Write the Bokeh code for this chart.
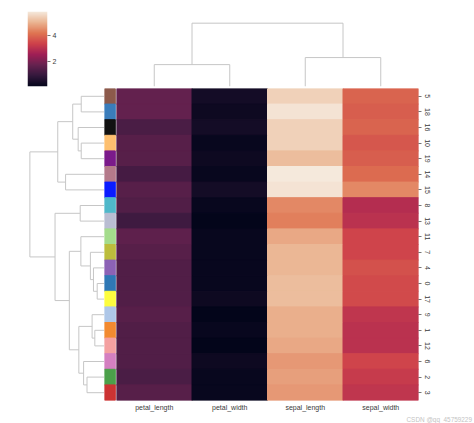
import numpy as np
from bokeh.embed import file_html
from bokeh.resources import INLINE
from bokeh.layouts import column, row
from bokeh.models import (ColumnDataSource, FixedTicker, Label, LinearColorMapper,
                          LinearAxis, Range1d)
from bokeh.plotting import figure
from bokeh.transform import transform

# ---- data -------------------------------------------------------------
columns = ["petal_length", "petal_width", "sepal_length", "sepal_width"]
row_labels = ["5", "18", "16", "10", "19", "14", "15", "8", "13", "11",
              "7", "4", "0", "17", "9", "1", "12", "6", "2", "3"]
petal_length = [1.7, 1.7, 1.3, 1.5, 1.5, 1.2, 1.5, 1.4, 1.1, 1.6,
                1.5, 1.4, 1.4, 1.4, 1.5, 1.4, 1.4, 1.4, 1.3, 1.5]
petal_width = [0.4, 0.3, 0.4, 0.2, 0.3, 0.2, 0.4, 0.2, 0.1, 0.2,
               0.2, 0.2, 0.2, 0.3, 0.1, 0.2, 0.1, 0.3, 0.2, 0.2]
sepal_length = [5.4, 5.7, 5.4, 5.4, 5.1, 5.8, 5.7, 4.4, 4.3, 4.8,
                5.0, 5.0, 5.1, 5.1, 4.9, 4.9, 4.8, 4.6, 4.7, 4.6]
sepal_width = [3.9, 3.8, 3.9, 3.7, 3.8, 4.0, 4.4, 2.9, 3.0, 3.4,
               3.4, 3.6, 3.5, 3.5, 3.1, 3.0, 3.0, 3.4, 3.2, 3.1]
row_colors = ["#8c5a4b", "#3a7dbb", "#111111", "#fdbf6f", "#7b1a8a",
              "#b47a8a", "#0a1cff", "#4fb8ca", "#b9bdd2", "#a4dc8c",
              "#bcbd3c", "#8c62b5", "#2f78b5", "#fdfd3e", "#aec7e8",
              "#f28a30", "#f4a0a0", "#d47fc0", "#4ba04a", "#cc3333"]
# dendrogram merges: (name, left child, right child, distance);
# children are row/column positions or names of earlier merges
row_links = [("a", 0, 1, 0.335), ("b", 3, 4, 0.335), ("c", 2, "b", 0.38),
             ("d", "a", "c", 0.46), ("e", 5, 6, 0.565), ("f", "d", "e", 0.68),
             ("g", 7, 8, 0.35), ("h", 12, 13, 0.10), ("i", 11, "h", 0.155),
             ("j", 10, "i", 0.20), ("k", 9, "j", 0.34), ("l", 15, 16, 0.135),
             ("m", 14, "l", 0.175), ("n", 18, 19, 0.25), ("o", 17, "n", 0.30),
             ("p", "m", "o", 0.37), ("q", "k", "p", 0.51), ("r", "g", "q", 0.72),
             ("s", "f", "r", 1.09)]
col_links = [("a", 0, 1, 5.6), ("b", 2, 3, 7.4), ("c", "a", "b", 16.2)]
value_min, value_max = 0.1, 5.8
colorbar_ticks = [2, 4]
watermark = "CSDN @qq_45759229"

# colour map anchors, as they appear in the picture
map_anchors = ["#03051a", "#33183c", "#66224f", "#a01e55", "#ce414a",
               "#df7552", "#ebb592", "#f5e9dc"]


# ---- helpers ----------------------------------------------------------
def palette_from(anchors, n=256):
    rgb = np.array([[int(c[i:i + 2], 16) for i in (1, 3, 5)] for c in anchors], float)
    pos = np.linspace(0, 1, len(anchors))
    t = np.linspace(0, 1, n)
    out = np.column_stack([np.interp(t, pos, rgb[:, k]) for k in range(3)])
    return ["#%02x%02x%02x" % tuple(int(round(v)) for v in c) for c in out]


def link_paths(links):
    """Return U shaped paths as (positions, distances)."""
    pos, dist = {}, {}
    ps, ds = [], []
    for name, a, b, d in links:
        pa = pos[a] if isinstance(a, str) else a + 0.5
        pb = pos[b] if isinstance(b, str) else b + 0.5
        da, db = dist.get(a, 0), dist.get(b, 0)
        ps.append([pa, pa, pb, pb])
        ds.append([da, d, d, db])
        pos[name], dist[name] = (pa + pb) / 2, d
    return ps, ds


def bare(fig):
    fig.xaxis.visible = False
    fig.yaxis.visible = False
    fig.grid.visible = False
    fig.outline_line_color = None
    fig.min_border = 0


FONT = "Liberation Sans"
INK = "#3a3a3a"
DENDRO = "#c6c6c6"
N = len(row_labels)
palette = palette_from(map_anchors)
mapper = LinearColorMapper(palette=palette, low=value_min, high=value_max)

# ---- colour bar --------------------------------------------------------
cb = figure(width=116, height=88, output_backend="svg", toolbar_location=None,
            x_range=Range1d(0, 1), y_range=Range1d(value_min, value_max), tools="")
bare(cb)
cb.min_border_left, cb.min_border_right = 27, 69
cb.min_border_top, cb.min_border_bottom = 11, 2
cb.image(image=[np.linspace(value_min, value_max, 256)[:, None]], x=0, y=value_min,
         dw=1, dh=value_max - value_min, color_mapper=mapper)
cb_axis = LinearAxis(ticker=FixedTicker(ticks=colorbar_ticks))
cb_axis.axis_line_color = None
cb_axis.major_tick_line_color = INK
cb_axis.major_tick_line_width = 0.7
cb_axis.major_tick_in, cb_axis.major_tick_out = 0, 3
cb_axis.minor_tick_line_color = None
cb_axis.major_label_text_font = FONT
cb_axis.major_label_text_font_size = "7px"
cb_axis.major_label_text_color = INK
cb_axis.major_label_standoff = 2
cb.add_layout(cb_axis, "right")

# ---- top dendrogram ----------------------------------------------------
top = figure(width=358, height=88, output_backend="svg", toolbar_location=None,
             x_range=Range1d(0, len(columns)), y_range=Range1d(0, 16.2 * 88 / 74.3), tools="")
bare(top)
top.min_border_right = 56
ps, ds = link_paths(col_links)
top.multi_line(xs=ps, ys=ds, line_color=DENDRO, line_width=1)

# ---- left dendrogram ---------------------------------------------------
y_range = Range1d(N, 0)
left = figure(width=104, height=325, output_backend="svg", toolbar_location=None,
              x_range=Range1d(103.5 / 68, -0.5 / 68), y_range=y_range, tools="")
bare(left)
left.min_border_bottom = 11
ps, ds = link_paths(row_links)
left.multi_line(xs=ds, ys=ps, line_color=DENDRO, line_width=1)

# ---- row colours --------------------------------------------------------
side = figure(width=12, height=325, output_backend="svg", toolbar_location=None,
              x_range=Range1d(0, 12), y_range=y_range, tools="")
bare(side)
side.min_border_bottom = 11
side.quad(left=0, right=10.8, top=[i for i in range(N)], bottom=[i + 1 for i in range(N)],
          fill_color=row_colors, line_color=row_colors, line_width=1)

# ---- heat map -----------------------------------------------------------
hm = figure(width=358, height=325, output_backend="svg", toolbar_location=None,
            x_range=Range1d(0, len(columns)), y_range=y_range, tools="")
hm.grid.visible = False
hm.outline_line_color = None
hm.min_border_left, hm.min_border_top = 0, 0
hm.min_border_right, hm.min_border_bottom = 56, 11
series = [petal_length, petal_width, sepal_length, sepal_width]
src = ColumnDataSource(dict(
    l=[c for c in range(4) for _ in range(N)],
    r=[c + 1 for c in range(4) for _ in range(N)],
    t=[i for _ in range(4) for i in range(N)],
    b=[i + 1 for _ in range(4) for i in range(N)],
    v=[v for s in series for v in s]))
hm.quad(left="l", right="r", top="t", bottom="b", source=src,
        fill_color=transform("v", mapper), line_color=transform("v", mapper), line_width=1)
hm.xaxis.visible = False
hm.yaxis.visible = False
bottom_axis = LinearAxis(ticker=FixedTicker(ticks=[0.5, 1.5, 2.5, 3.5]),
                         major_label_overrides={0.5 + i: c for i, c in enumerate(columns)})
bottom_axis.axis_line_color = None
bottom_axis.major_tick_line_color = None
bottom_axis.major_tick_in, bottom_axis.major_tick_out = 0, 0
bottom_axis.minor_tick_line_color = None
bottom_axis.major_label_text_font = FONT
bottom_axis.major_label_text_font_size = "7px"
bottom_axis.major_label_text_color = INK
bottom_axis.major_label_standoff = 3
hm.add_layout(bottom_axis, "below")
right_axis = LinearAxis(ticker=FixedTicker(ticks=[i + 0.5 for i in range(N)]),
                        major_label_overrides={i + 0.5: l for i, l in enumerate(row_labels)})
right_axis.axis_line_color = None
right_axis.major_tick_line_color = INK
right_axis.major_tick_line_width = 0.7
right_axis.major_tick_in, right_axis.major_tick_out = 0, 3
right_axis.minor_tick_line_color = None
right_axis.major_label_text_font = FONT
right_axis.major_label_text_font_size = "7px"
right_axis.major_label_text_color = INK
right_axis.major_label_orientation = "vertical"
right_axis.major_label_standoff = 3
hm.add_layout(right_axis, "right")

# ---- watermark strip ----------------------------------------------------
strip = figure(width=474, height=10, output_backend="svg", toolbar_location=None,
               x_range=Range1d(0, 1), y_range=Range1d(0, 1), tools="")
bare(strip)
strip.add_layout(Label(x=406, y=3, x_units="screen", y_units="screen", text=watermark,
                       text_font=FONT, text_font_size="6.4px", text_color="#c4c4c4"))

page = column(row(cb, top, spacing=0), row(left, side, hm, spacing=0), strip, spacing=0)
open("out.html", "w").write(file_html(page, INLINE))
